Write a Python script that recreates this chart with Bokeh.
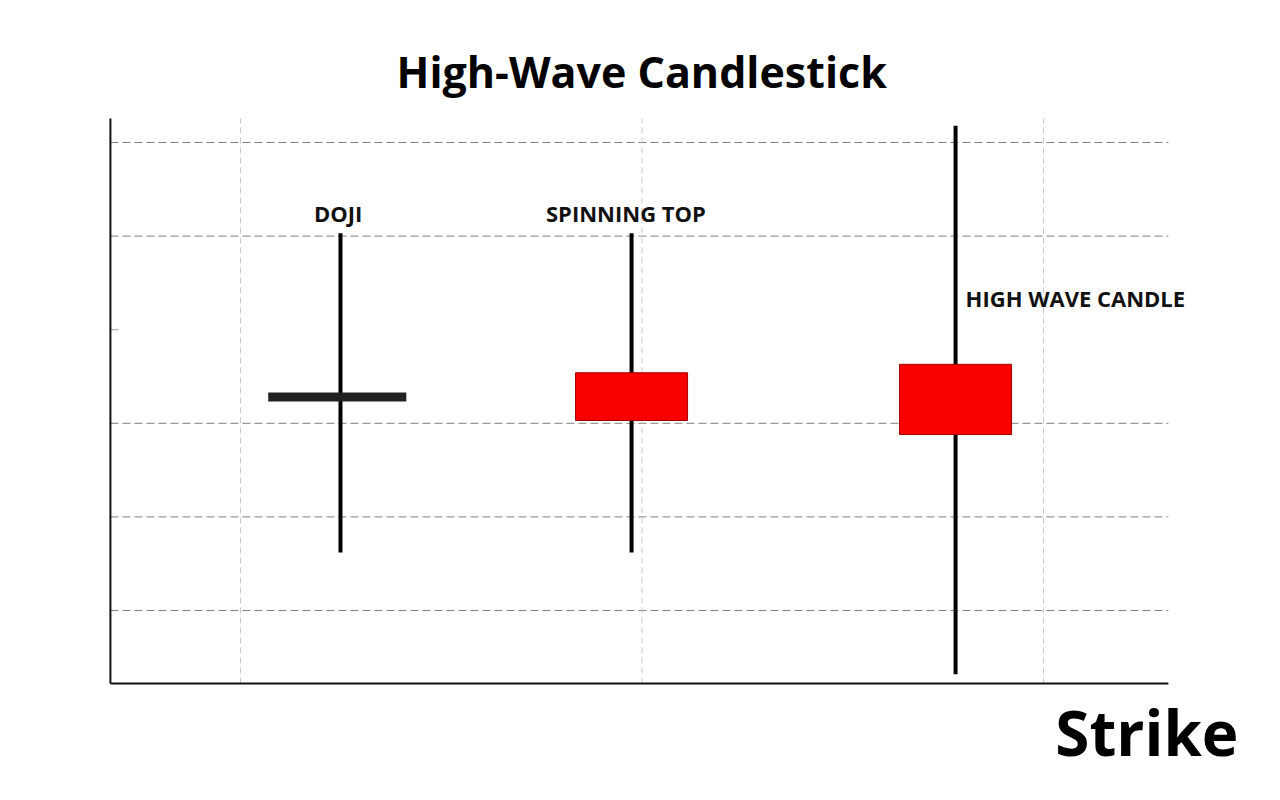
from bokeh.plotting import figure
from bokeh.models import Range1d, ColumnDataSource, Label, Title
from bokeh.embed import file_html
from bokeh.resources import INLINE

# ---- data ----
names = ["DOJI", "SPINNING TOP", "HIGH WAVE CANDLE"]
xpos = [1.249, 1.974, 2.781]
opens = [3.28, 3.54, 3.63]
closes = [3.28, 3.03, 2.88]
highs = [5.03, 5.03, 6.18]
lows = [1.62, 1.62, 0.32]

# axis / grid layout (data units)
x_lo, x_hi = 0.676, 3.311
y_lo, y_hi = 0.22, 6.256
hgrid = [1, 2, 3, 5, 6]
vgrid = [1, 2, 3]
stub_y = 4

# label placement (annotation positions)
label_x = [1.243, 1.960, 2.806]
label_y = [5.25, 5.25, 4.34]
label_align = ["center", "center", "left"]

FONT = "Open Sans"

p = figure(width=1264, height=784, output_backend="svg", toolbar_location=None,
           x_range=Range1d(0.6513, 3.4857), y_range=Range1d(0.1239, 6.342),
           min_border_left=100, min_border_right=26, min_border_top=110, min_border_bottom=92)
p.background_fill_color = "white"
p.border_fill_color = "white"
p.outline_line_color = None
p.xaxis.visible = False
p.yaxis.visible = False
p.xgrid.visible = False
p.ygrid.visible = False

# title
p.title.text = "High-Wave Candlestick"
p.title.align = "left"
p.title.offset = 296
p.title.text_font = FONT
p.title.text_font_style = "bold"
p.title.text_font_size = "43px"
p.title.text_color = "black"
p.title.standoff = 20

# logo
p.add_layout(Title(text="Strike", align="right", text_font=FONT, text_font_style="bold",
                   text_font_size="62px", text_color="black", offset=0, standoff=-9), "below")

# grid lines
p.segment(x0=[x_lo] * len(hgrid), y0=hgrid, x1=[x_hi] * len(hgrid), y1=hgrid,
          line_color="#808080", line_dash="8 4", line_width=1)
p.segment(x0=vgrid, y0=[y_lo] * len(vgrid), x1=vgrid, y1=[y_hi] * len(vgrid),
          line_color="#c8c8c8", line_dash="6 4", line_width=1)
p.segment(x0=[x_lo], y0=[stub_y], x1=[x_lo + 0.02], y1=[stub_y],
          line_color="#999999", line_width=1)

# axis lines
p.segment(x0=[x_lo, x_lo], y0=[y_lo, y_lo], x1=[x_lo, x_hi], y1=[y_hi, y_lo],
          line_color="#111111", line_width=2)

# candles
src = ColumnDataSource(dict(x=xpos, h=highs, l=lows))
p.segment(x0="x", y0="l", x1="x", y1="h", source=src, line_color="black", line_width=4)

body_idx = [i for i in range(len(names)) if opens[i] != closes[i]]
doji_idx = [i for i in range(len(names)) if opens[i] == closes[i]]

bsrc = ColumnDataSource(dict(x=[xpos[i] for i in body_idx],
                             top=[max(opens[i], closes[i]) for i in body_idx],
                             bot=[min(opens[i], closes[i]) for i in body_idx]))
p.vbar(x="x", top="top", bottom="bot", width=0.279, source=bsrc,
       fill_color="#f70000", line_color="#a00000", line_width=1)

dsrc = ColumnDataSource(dict(x0=[xpos[i] - 0.18 for i in doji_idx],
                             x1=[xpos[i] + 0.164 for i in doji_idx],
                             y=[opens[i] for i in doji_idx]))
p.segment(x0="x0", y0="y", x1="x1", y1="y", source=dsrc, line_color="#222222",
          line_width=9, line_cap="butt")

# candle labels
for n, lx, ly, al in zip(names, label_x, label_y, label_align):
    p.add_layout(Label(x=lx, y=ly, text=n, text_align=al, text_baseline="middle",
                       text_font=FONT, text_font_style="bold", text_font_size="22px",
                       text_color="#111111"))

open("out.html", "w").write(file_html(p, INLINE))
